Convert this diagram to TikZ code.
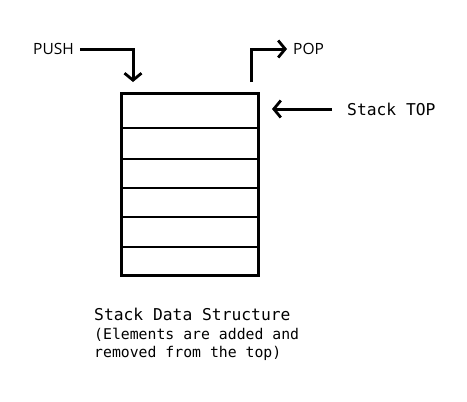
\documentclass[tikz,border=0pt]{standalone}
\usepackage{fontspec}
\setmainfont{Open Sans}
\setmonofont{DejaVu Sans Mono}
\usepackage{tikz}
\usetikzlibrary{positioning,arrows.meta}

\begin{document}
\begin{tikzpicture}[
    x=1pt, y=-1pt,
    node distance=2pt,
    every node/.style={inner sep=0pt},
    stackbox/.style={draw, line width=3pt, minimum width=137pt,
                     minimum height=182pt, anchor=north west},
    divider/.style={line width=2.8pt},
    arrow/.style={-{Straight Barb[length=7pt, width=17pt, line width=2.8pt]},
                  line width=3pt},
    opname/.style={font=\fontsize{15.5}{18}\selectfont, anchor=west},
    tag/.style={font=\ttfamily\fontsize{16.3}{19}\selectfont, anchor=west},
    note/.style={font=\ttfamily\fontsize{14.8}{18}\selectfont, align=left},
]
\useasboundingbox[fill=white] (0,0) rectangle (467,402);

% Stack
\node[stackbox] (stack) at (120,92) {};
\foreach \y in {128,159,188,217,247}
    \draw[divider] (stack.west |- 0,\y) -- (stack.east |- 0,\y);

% Operations
\node[opname] (push) at (33,49) {PUSH};
\node[opname] (pop) at (293,49) {POP};
\node[tag] (toplbl) at (347,109) {Stack TOP};
\coordinate (pushin) at (133,82);
\coordinate (popout) at (251,82);
\coordinate (topin) at (272,109);

\draw[arrow] ([xshift=6pt]push.east) -| (pushin);
\draw[arrow] (popout) |- ([xshift=-6pt]pop.west);
\draw[arrow] ([xshift=-15pt]toplbl.west) -- (topin);

% Caption
\node[tag] (title) at (94,314) {Stack Data Structure};
\node[note, below=7pt of title.south west, anchor=north west] (desc)
    {(Elements are added and\\removed from the top)};
\end{tikzpicture}
\end{document}
